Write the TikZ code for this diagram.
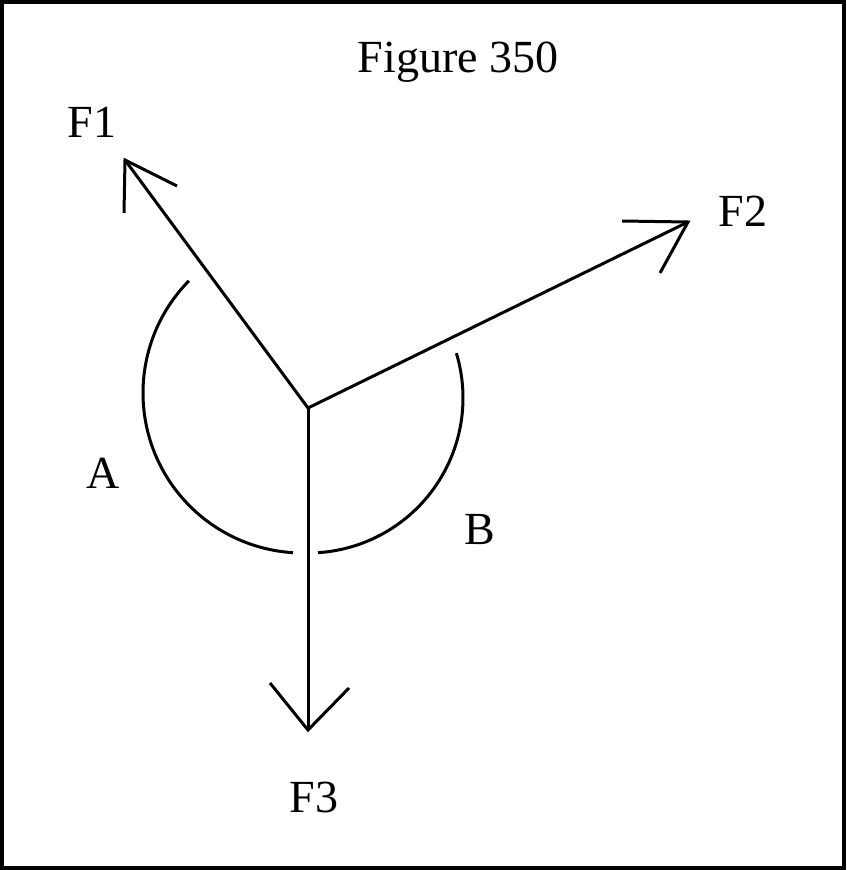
\documentclass[tikz,border=0pt]{standalone}
\usepackage{fontspec}
\setmainfont{Liberation Serif}
\begin{document}
\begin{tikzpicture}[x=1pt,y=1pt,
  ln/.style={line width=3pt},
  lbl/.style={font=\fontsize{46}{50}\selectfont, inner sep=0pt}]
\useasboundingbox (0,0) rectangle (846,-870);
\draw[line width=4pt] (2,-2) rectangle (844,-868);
% vertex and tips
\coordinate (O) at (308,-408);
\coordinate (T1) at (125,-160);
\coordinate (T2) at (688,-222);
\coordinate (T3) at (308,-730);
\coordinate (B1a) at (124,-213);
\coordinate (B1b) at (177,-186);
\coordinate (B2a) at (622,-221);
\coordinate (B2b) at (660,-273);
\coordinate (B3a) at (270,-683);
\coordinate (B3b) at (349,-688);
% force lines
\draw[ln] (O) -- (T1);
\draw[ln] (O) -- (T2);
\draw[ln] (O) -- (T3);
% arrowheads
\draw[ln] (B1a) -- (T1) -- (B1b);
\draw[ln] (B2a) -- (T2) -- (B2b);
\draw[ln] (B3a) -- (T3) -- (B3b);
% angle arcs
\coordinate (CA) at (303,-393);
\coordinate (CB) at (308,-398);
\draw[ln] (CA) ++(135.5:160) arc[start angle=135.5, end angle=266.4, radius=160];
\draw[ln] (CB) ++(16.8:155) arc[start angle=16.8, end angle=-86.3, radius=155];
% labels
\node[lbl] (title) at (458,-62) {Figure 350};
\node[lbl] (f1) at (92,-122) {F1};
\node[lbl] (f2) at (743,-211) {F2};
\node[lbl] (f3) at (314,-797) {F3};
\node[lbl] (a) at (103,-473) {A};
\node[lbl] (b) at (480,-530) {B};
\end{tikzpicture}
\end{document}
